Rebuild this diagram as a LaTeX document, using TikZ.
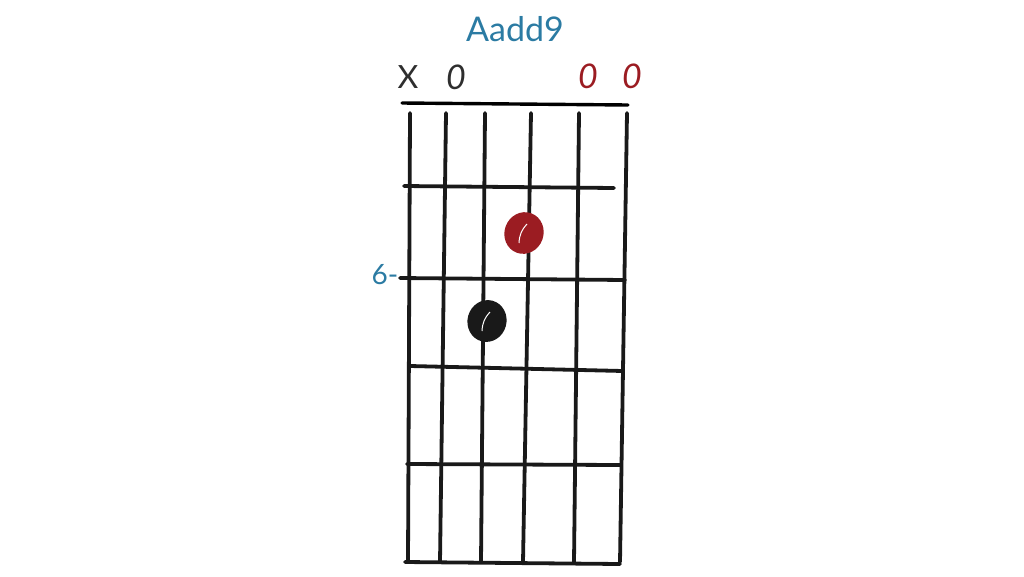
\documentclass[tikz,border=0pt]{standalone}
\usepackage{fontspec}
\usetikzlibrary{shapes.geometric}
\newfontfamily\handfont{Lato}
\definecolor{chordblue}{HTML}{2B7BA3}
\definecolor{chordred}{HTML}{9B1C22}
\definecolor{pencil}{HTML}{2E2E2E}
\tikzset{
  wire/.style={line width=3.8pt, line cap=round, black!90},
  fretline/.style={line width=3.8pt, line cap=round, black!90},
  marktext/.style={font=\handfont\fontsize{32}{32}\selectfont, inner sep=0pt},
  fingerdot/.style={ellipse, draw, line width=2pt, minimum width=37pt, minimum height=40pt, inner sep=0pt}
}
\begin{document}
\begin{tikzpicture}[x=1pt,y=-1pt]
    \useasboundingbox (0,0) rectangle (1024,576);
    % chord name and open / muted strings
    \node[marktext, chordblue, font=\handfont\fontsize{34}{34}\selectfont] (name) at (515,29) {Aadd9};
    \node[marktext, pencil] (mute1) at (408,77) {X};
    \node[marktext, pencil, font=\handfont\itshape\fontsize{34}{34}\selectfont] (open2) at (456,77) {0};
    \node[marktext, chordred, font=\handfont\itshape\fontsize{34}{34}\selectfont] (open5) at (588,76) {0};
    \node[marktext, chordred, font=\handfont\itshape\fontsize{34}{34}\selectfont] (open6) at (632,76) {0};
    % nut
    \draw[line width=3.4pt, line cap=round] (402,103) -- (628,105);
    % strings
    \foreach \t/\b in {410/408, 446/440, 485/481, 531/523, 579/574, 627/620}
      \draw[wire] (\t,113) -- (\b,562);
    % frets
    \foreach \l/\ly/\r/\ry in {404/186/614/188, 400/278/625/280, 410/366/623/371, 407/464/620/465, 405/562/620/564}
      \draw[fretline] (\l,\ly) -- (\r,\ry);
    % fret number
    \node[font=\handfont\fontsize{28}{28}\selectfont, chordblue, inner sep=0pt] (fretno) at (385,275) {6-};
    % fingers
    \node[fingerdot, fill=chordred, draw=chordred, rotate=-20] (dotred) at (524,233) {};
    \node[fingerdot, fill=black!90, draw=black!90, rotate=-15] (dotblack) at (487,321) {};
    \draw[white, line width=1pt] (519,243) to[bend left=20] (527,224);
    \draw[white, line width=1pt] (482,331) to[bend left=20] (490,312);
\end{tikzpicture}
\end{document}
